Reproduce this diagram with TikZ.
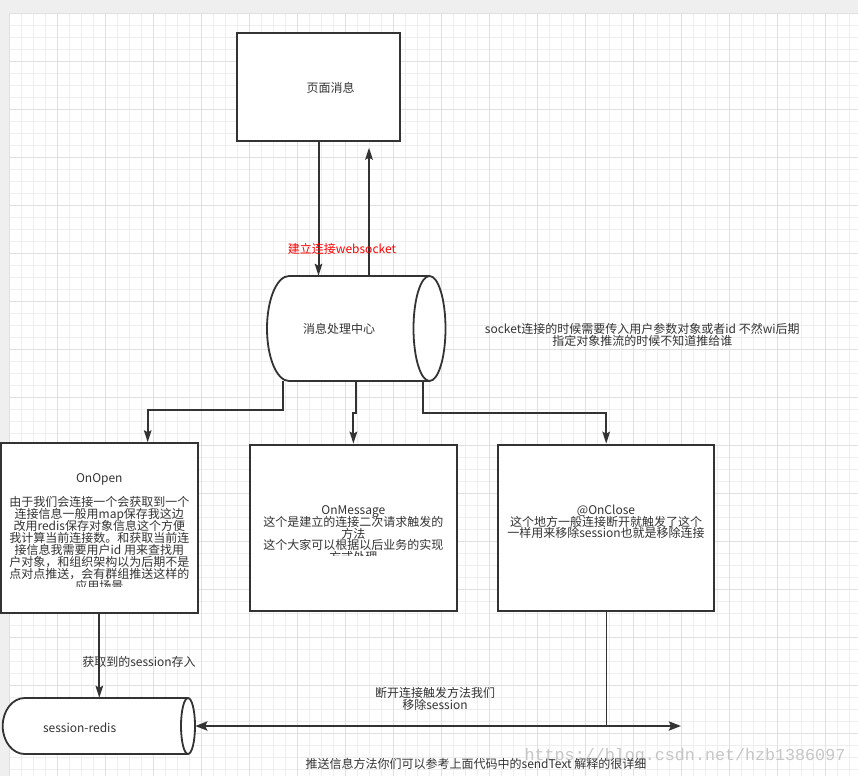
\documentclass[tikz,border=0pt]{standalone}
\usepackage{fontspec}
\setmainfont{Noto Sans CJK SC}
\newfontfamily\markfont{Liberation Mono}
\usetikzlibrary{arrows.meta}
\definecolor{ink}{HTML}{333333}
\definecolor{paper}{HTML}{EFEFEF}
\definecolor{minorline}{HTML}{EEEEEE}
\definecolor{majorline}{HTML}{E0E0E0}

\begin{document}
\begin{tikzpicture}[x=1pt, y=-1pt,
	box/.style={draw=ink, line width=2pt, fill=white, inner sep=0pt},
	tank/.style={draw=ink, line width=1.8pt, fill=white},
	txt/.style={text=ink, font=\fontsize{12pt}{12pt}\selectfont, inner sep=0pt},
	arr/.style={draw=ink, line width=2pt, -{Stealth[length=12pt, width=7.5pt, inset=2pt]}},
	bus/.style={draw=ink, line width=2.6pt, {Stealth[length=12pt, width=9pt, inset=2pt]}-{Stealth[length=12pt, width=9pt, inset=2pt]}}]
	\useasboundingbox (0,0) rectangle (858,776);
	% canvas grid
	\fill[paper] (0,0) rectangle (858,776);
	\fill[white] (9.3,13.3) rectangle (858,776);
	\foreach \i in {0,...,70}
		\draw[minorline, line width=1pt] (9.3+12*\i,13.3) -- (9.3+12*\i,776);
	\foreach \j in {0,...,63}
		\draw[minorline, line width=1pt] (9.3,13.3+12*\j) -- (858,13.3+12*\j);
	\foreach \i in {0,...,17}
		\draw[majorline, line width=1pt] (9.3+48*\i,13.3) -- (9.3+48*\i,776);
	\foreach \j in {0,...,15}
		\draw[majorline, line width=1pt] (9.3,13.3+48*\j) -- (858,13.3+48*\j);

	% page
	\node[box, minimum width=163pt, minimum height=107.7pt] (page) at (318.5,86.8) {};
	\node[txt] (pagetext) at (330.5,88.3) {页面消息};

	% message hub
	\node[inner sep=0pt, minimum width=178.5pt, minimum height=105pt] (hub) at (356.25,328.5) {};
	\draw[tank] (429.5,276) -- (289,276) arc[start angle=-90, end angle=-270, x radius=22, y radius=52.5] -- (429.5,381);
	\draw[tank] (429.5,328.5) ellipse[x radius=16, y radius=52.5];
	\node[txt] (hubtext) at (339,329) {消息处理中心};
	\node[txt, align=center] (notetext) at (642.3,334.9) {socket连接的时候需要传入用户参数对象或者id 不然wi后期\\指定对象推流的时候不知道推给谁};

	% handlers
	\node[box, minimum width=196.7pt, minimum height=169.4pt] (open) at (99.3,528) {};
	\node[box, minimum width=207.3pt, minimum height=166pt] (msg) at (353.4,527.7) {};
	\node[box, minimum width=215.7pt, minimum height=166pt] (close) at (606.2,527.7) {};
	\begin{scope}
		\clip (0,440) rectangle (200,586.7);
		\node[txt, anchor=base] (opentitle) at (99.3,482.1) {OnOpen};
		\foreach \s [count=\k from 0] in {由于我们会连接一个会获取到一个, 连接信息一般用map保存我这边, 改用redis保存对象信息这个方便, 我计算当前连接数。和获取当前连, 接信息我需要用户id 用来查找用, 户对象，和组织架构以为后期不是, 点对点推送，会有群组推送这样的, 应用场景}
			\node[txt, anchor=base] (open-\k) at (99.3,506.1+12*\k) {\s};
	\end{scope}
	\begin{scope}
		\clip (250,445) rectangle (457,555);
		\foreach \s [count=\k from 0] in {OnMessage, 这个是建立的连接二次请求触发的, 方法, 这个大家可以根据以后业务的实现, 方式处理}
			\node[txt, anchor=base] (msg-\k) at (353.4,514.4+11.8*\k) {\s};
	\end{scope}
	\foreach \s [count=\k from 0] in {@OnClose, 这个地方一般连接断开就触发了这个, 一样用来移除session也就是移除连接}
		\node[txt, anchor=base] (close-\k) at (606,514.4+11.7*\k) {\s};

	% redis store
	\node[inner sep=0pt, minimum width=192.3pt, minimum height=56pt] (redis) at (98.85,726) {};
	\draw[tank] (188,698) -- (24.7,698) arc[start angle=-90, end angle=-270, x radius=22, y radius=28] -- (188,754);
	\draw[tank] (188,726) ellipse[x radius=7, y radius=28];
	\node[txt] (redistext) at (79.6,727.3) {session-redis};

	% connectors
	\draw[arr] (page.south) -- (page.south |- hub.north);
	\draw[arr] ([xshift=12.75pt]hub.north) -- ([xshift=50.5pt, yshift=-6pt]page.south);
	\node[txt, text=red] (linklabel) at (342,249) {建立连接websocket};
	\draw[arr] ([xshift=16pt]hub.south west) -- ++(0,29) -| ([xshift=48.4pt]open.north);
	\draw[arr] (hub.south) -- ++(0,31.7) -| (msg.north);
	\draw[arr] ([xshift=-22.5pt]hub.south east) -- ++(0,31.7) -| (close.north);
	\draw[arr] (open.south) -- (open.south |- redis.north);
	\coordinate (busend) at (681,726);
	\draw[ink, line width=1.4pt] (close.south) -- (close.south |- busend);
	\draw[bus] (redis.east) -- (busend);
	\node[txt] (storetext) at (139,662.3) {获取到的session存入};
	\node[txt, align=center] (removetext) at (435,698.9) {断开连接触发方法我们\\移除session};
	\node[font=\markfont\fontsize{16.7pt}{17pt}\selectfont, text=gray!45, inner sep=0pt] (mark) at (685,756) {https://blog.csdn.net/hzb1386097};
	\node[txt] (pushtext) at (476,764) {推送信息方法你们可以参考上面代码中的sendText 解释的很详细};
\end{tikzpicture}
\end{document}
